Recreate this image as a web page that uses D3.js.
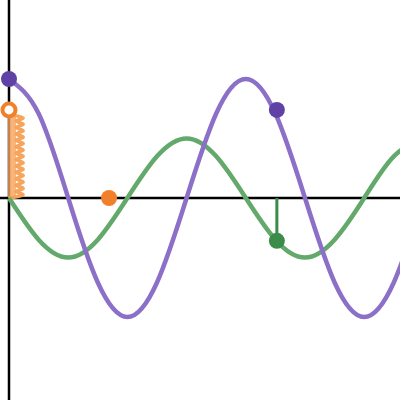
<!DOCTYPE html>
<html><head><script src="https://cdn.jsdelivr.net/npm/d3@7"></script>
<style>body{margin:0;background:#fff}</style></head><body>
<script>
const xs = [0,1,2,3,4,5,6,7,8,9,10,11,12,13,14];
const purple = [1,0.71,0,-0.71,-1,-0.71,0,0.71,1,0.71,0,-0.71,-1,-0.71,0];
const green = [0,-0.35,-0.5,-0.35,0,0.35,0.5,0.35,0,-0.35,-0.5,-0.35,0,0.35,0.5];
const purplePoint = [[0,1],[9.05,0.74]];
const greenPoint = [9.05,-0.36];
const orangePoint = [3.38,0];
const hollowPoint = [0,0.74];
const springTop = 0.7, springCoils = 13;

const W=400,H=400;
const x=d3.scaleLinear().domain([0,1]).range([9,38.6]);
const y=d3.scaleLinear().domain([0,1]).range([198,79]);
const svg=d3.select("body").append("svg").attr("width",W).attr("height",H);
svg.append("line").attr("x1",0).attr("x2",W).attr("y1",y(0)).attr("y2",y(0)).attr("stroke","#000").attr("stroke-width",2.5);
svg.append("line").attr("x1",x(0)).attr("x2",x(0)).attr("y1",0).attr("y2",H).attr("stroke","#000").attr("stroke-width",2.5);
// spring
const sp=[];
for(let i=0;i<=springCoils*2;i++){const t=i/(springCoils*2);sp.push([i%2?0.72:0.0, springTop*(1-t)]);}
svg.append("path").attr("d",d3.line().x(d=>x(d[0])).y(d=>y(d[1])).curve(d3.curveBasis)(sp))
 .attr("fill","none").attr("stroke","#f7a55c").attr("stroke-width",3.5);
svg.append("rect").attr("x",x(0)-1).attr("y",y(springTop)).attr("width",8).attr("height",y(0)-y(springTop)).attr("fill","#f5a35a").attr("opacity",0.8);
const line=d3.line().x((d,i)=>x(xs[i])).y(d=>y(d)).curve(d3.curveNatural);
svg.append("path").attr("d",line(green)).attr("fill","none").attr("stroke","#63a96b").attr("stroke-width",4.5);
svg.append("path").attr("d",line(purple)).attr("fill","none").attr("stroke","#8c70c8").attr("stroke-width",4.5);
svg.append("line").attr("x1",x(greenPoint[0])).attr("x2",x(greenPoint[0])).attr("y1",y(0)).attr("y2",y(greenPoint[1])).attr("stroke","#3a8c48").attr("stroke-width",3);
purplePoint.forEach(p=>svg.append("circle").attr("cx",x(p[0])).attr("cy",y(p[1])).attr("r",8).attr("fill","#6042a6"));
svg.append("circle").attr("cx",x(greenPoint[0])).attr("cy",y(greenPoint[1])).attr("r",8).attr("fill","#3a8c48");
svg.append("circle").attr("cx",x(orangePoint[0])).attr("cy",y(orangePoint[1])).attr("r",8).attr("fill","#f0802a");
svg.append("circle").attr("cx",x(hollowPoint[0])).attr("cy",y(hollowPoint[1])).attr("r",6.5).attr("fill","#fff").attr("stroke","#f0802a").attr("stroke-width",4);
</script></body></html>
